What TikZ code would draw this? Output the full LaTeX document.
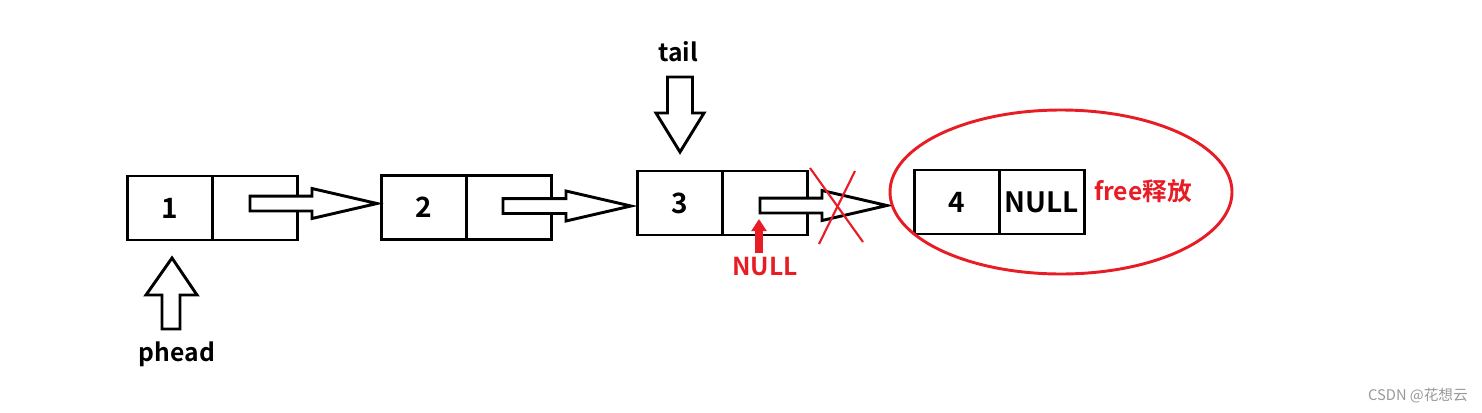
\documentclass[tikz,border=0pt]{standalone}
\usepackage{fontspec}
\setmainfont{Noto Sans CJK SC}[BoldFont={* Bold}]
\usetikzlibrary{calc,arrows.meta}
\definecolor{mred}{RGB}{232,28,36}
\begin{document}
\begin{tikzpicture}[x=0.75pt,y=-0.75pt,
  cell/.style={draw,line width=2.2pt,minimum width=63.75pt,minimum height=48pt,inner sep=0pt,
    font=\fontsize{21}{24}\selectfont\bfseries},
  blk/.style={draw,line width=2.2pt,line join=miter,fill=white},
  lbl/.style={font=\fontsize{18.5}{22}\selectfont\bfseries},
  rlbl/.style={font=\fontsize{18.5}{22}\selectfont\bfseries,text=mred},
]
\useasboundingbox (0,0) rectangle (1482,412);
% cells
\node[cell] (c1a) at (170,208) {1};
\node[cell] (c1b) at (255,208) {};
\node[cell] (c2a) at (424,207.5) {2};
\node[cell] (c2b) at (509,207.5) {};
\node[cell] (c3a) at (680,203) {3};
\node[cell] (c3b) at (765,203) {};
\node[cell] (c4a) at (957,202) {4};
\node[cell] (c4b) at (1042,202) {NULL};
% horizontal block arrows
\newcommand{\hblock}[2]{%
  \draw[blk] let \p1=(#1), \p2=(#2) in
    (\x1,\y1+5.6pt) -- (\x2-48.75pt,\y1+5.6pt) -- (\x2-48.75pt,\y1+11.25pt) -- (\x2,\y1)
    -- (\x2-48.75pt,\y1-11.25pt) -- (\x2-48.75pt,\y1-5.6pt) -- (\x1,\y1-5.6pt) -- cycle;}
\coordinate (a1s) at (250,203.5);
\coordinate (a1t) at (377,203.5);
\coordinate (a2s) at (503,206);
\coordinate (a2t) at (631,206);
\coordinate (a3s) at (760,205.5);
\coordinate (a3t) at (887,205.5);
\hblock{a1s}{a1t}
\hblock{a2s}{a2t}
\hblock{a3s}{a3t}
% tail arrow (down)
\node[lbl] (tail) at (678,52) {tail};
\coordinate (tt) at (680,152);
\draw[blk] (667.5,77) -- (692.5,77) -- (692.5,113) -- (704,113) -- (tt) -- (656,113) -- (667.5,113) -- cycle;
% phead arrow (up)
\node[lbl] (phead) at (177,354) {phead};
\coordinate (pt) at (172,258);
\draw[blk] (162,329) -- (180,329) -- (180,295) -- (197,295) -- (pt) -- (146,295) -- (162,295) -- cycle;
% red NULL arrow
\node[rlbl] (rnull) at (765,267) {NULL};
\coordinate (rt) at (759,219);
\draw[mred,line width=6pt,-{Triangle[length=9pt,width=11pt]}] (759,253) -- (rt);
% red cross
\coordinate (x1) at (810,168);
\coordinate (x2) at (863,242);
\coordinate (x3) at (855,171);
\coordinate (x4) at (819,244);
\draw[mred,line width=1.6pt] (x1) -- (x2);
\draw[mred,line width=1.6pt] (x3) -- (x4);
% ellipse
\draw[mred,line width=2.2pt] (1061,192) ellipse [x radius=171, y radius=82];
\node[rlbl] (free) at (1143,191) {free释放};
% watermark
\node[text=gray!80,font=\fontsize{11}{13}\selectfont] (wm) at (1418,396) {CSDN @花想云};
\end{tikzpicture}
\end{document}
